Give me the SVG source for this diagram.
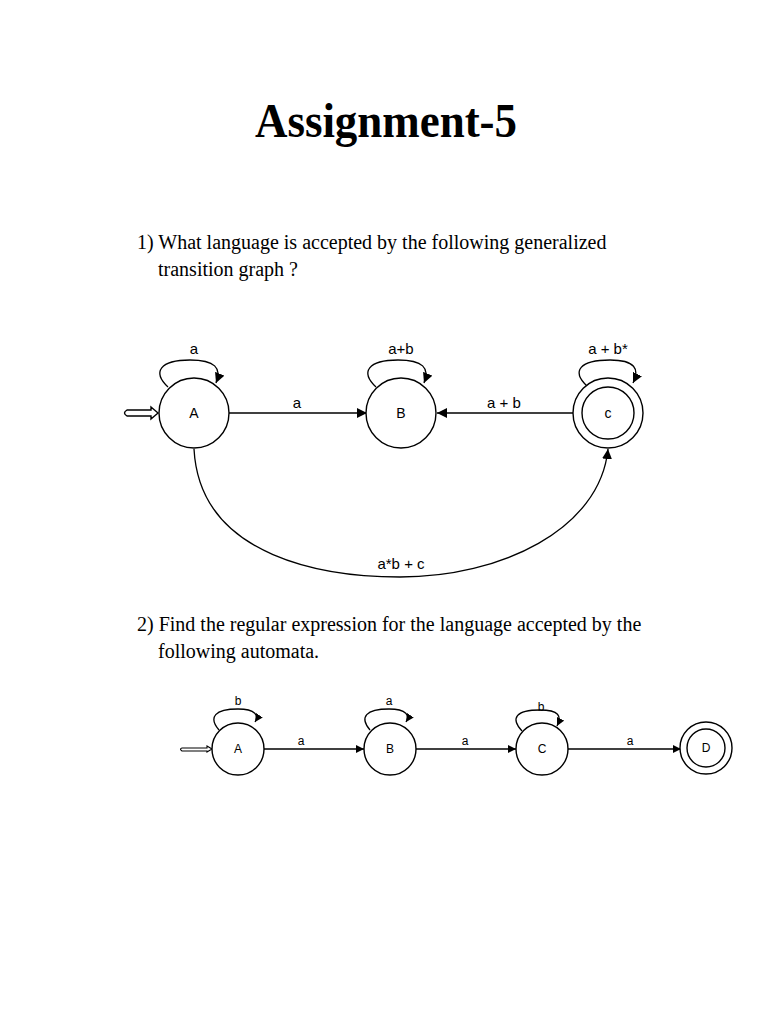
<svg xmlns="http://www.w3.org/2000/svg" width="768" height="1024" viewBox="0 0 768 1024">
<style>
.t{font-family:"Liberation Serif","Times New Roman",serif;fill:#000}
.l{font-family:"Liberation Sans",Arial,sans-serif;fill:#000;text-anchor:middle}
.n{fill:#fff;stroke:#000;stroke-width:1.4}
.e{fill:none;stroke:#000;stroke-width:1.3}
</style>
<defs>
<marker id="ah" viewBox="0 0 10 10" refX="10" refY="5" markerWidth="10" markerHeight="10" markerUnits="userSpaceOnUse" orient="auto">
<path d="M0,0 L10,5 L0,10 z" fill="#000"/>
</marker>
<marker id="ahs" viewBox="0 0 10 10" refX="10" refY="5" markerWidth="8" markerHeight="8" markerUnits="userSpaceOnUse" orient="auto">
<path d="M0,0 L10,5 L0,10 z" fill="#000"/>
</marker>
</defs>
<rect width="768" height="1024" fill="#fff"/>
<text class="t" x="386" y="137" font-size="49" font-weight="bold" text-anchor="middle" textLength="262" lengthAdjust="spacingAndGlyphs">Assignment-5</text>
<text class="t" x="137" y="249" font-size="20">1) What language is accepted by the following generalized</text>
<text class="t" x="158" y="276" font-size="20">transition graph ?</text>
<text class="t" x="137" y="631" font-size="20">2) Find the regular expression for the language accepted by the</text>
<text class="t" x="158" y="658" font-size="20">following automata.</text>

<g id="connectors1">
<path class="e" d="M229,413 L367,413" marker-end="url(#ah)"/>
<path class="e" d="M573,413 L437,413" marker-end="url(#ah)"/>
<path class="e" d="M194,449 C200,560 330,577 400,577 C500,577 600,530 608,449" marker-end="url(#ah)"/>
<path class="e" d="M168,387 C152,372 160,360 190,360 C215,360 222,368 216,383" marker-end="url(#ah)"/>
<path class="e" d="M376,387 C360,372 368,360 398,360 C423,360 430,368 424,383" marker-end="url(#ah)"/>
<path class="e" d="M587,386 C571,371 580,360 610,360 C635,360 640,369 633,383" marker-end="url(#ah)"/>
<path d="M158,413 L151,407 L151,410 L127,410 Q122,413 127,416 L151,416 L151,419 Z" fill="#fff" stroke="#000" stroke-width="1.4"/>
<text class="l" x="194" y="354" font-size="15">a</text>
<text class="l" x="401" y="354" font-size="15">a+b</text>
<text class="l" x="608" y="354" font-size="15">a + b*</text>
<text class="l" x="297" y="408" font-size="15">a</text>
<text class="l" x="504" y="408" font-size="15">a + b</text>
<text class="l" x="401" y="569" font-size="15">a*b + c</text>
</g>
<g id="A1"><circle class="n" cx="194" cy="413" r="35"/><text class="l" x="194" y="418" font-size="14">A</text></g>
<g id="B1"><circle class="n" cx="401" cy="413" r="35"/><text class="l" x="401" y="418" font-size="14">B</text></g>
<g id="C1"><circle class="n" cx="608" cy="413" r="35"/><circle class="n" cx="608" cy="413" r="26"/><text class="l" x="608" y="418" font-size="14">c</text></g>

<g id="connectors2">
<path class="e" d="M264,749 L364,749" marker-end="url(#ahs)"/>
<path class="e" d="M415,749 L516,749" marker-end="url(#ahs)"/>
<path class="e" d="M567,749 L681,749" marker-end="url(#ahs)"/>
<path class="e" d="M219,730 C208,717 215,709 238,709 C256,709 259,716 255,722" marker-end="url(#ahs)"/>
<path class="e" d="M370,730 C359,717 366,709 389,709 C407,709 410,716 406,722" marker-end="url(#ahs)"/>
<path class="e" d="M522,731 C510,718 516,710 540,710 C559,710 562,716 557,726" marker-end="url(#ahs)"/>
<path d="M212,749 L207,746 L207,748 L182,748 Q179,749 182,751 L207,751 L207,752 Z" fill="#fff" stroke="#000" stroke-width="1.1"/>
<text class="l" x="238" y="705" font-size="12">b</text>
<text class="l" x="389" y="705" font-size="12">a</text>
<text class="l" x="541" y="711" font-size="12">b</text>
<text class="l" x="301" y="745" font-size="12">a</text>
<text class="l" x="465" y="745" font-size="12">a</text>
<text class="l" x="630" y="745" font-size="12">a</text>
</g>
<g id="A2"><circle class="n" cx="238" cy="749" r="26"/><text class="l" x="238" y="753" font-size="12">A</text></g>
<g id="B2"><circle class="n" cx="390" cy="749" r="26"/><text class="l" x="390" y="753" font-size="12">B</text></g>
<g id="C2"><circle class="n" cx="542" cy="749" r="26"/><text class="l" x="542" y="753" font-size="12">C</text></g>
<g id="D2"><circle class="n" cx="706" cy="748" r="26"/><circle class="n" cx="706" cy="748" r="19"/><text class="l" x="706" y="752" font-size="12">D</text></g>
</svg>
